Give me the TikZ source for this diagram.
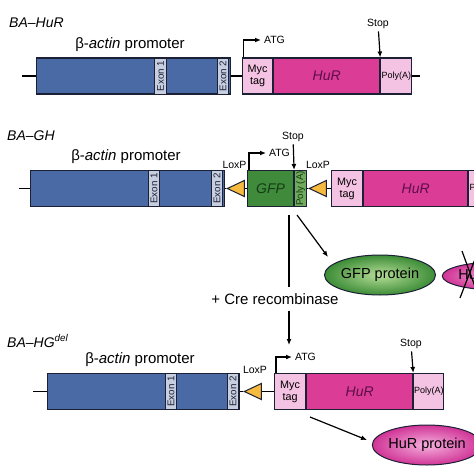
\documentclass[tikz,border=0pt]{standalone}
\usepackage{fontspec}
\setmainfont{Liberation Sans}
\usetikzlibrary{positioning,shapes.geometric,arrows.meta}

\definecolor{edgeline}{RGB}{28,32,52}
\definecolor{promblue}{RGB}{74,106,166}
\definecolor{exongrey}{RGB}{198,206,224}
\definecolor{tagpink}{RGB}{244,194,226}
\definecolor{hurmag}{RGB}{218,60,150}
\definecolor{hurtext}{RGB}{92,14,72}
\definecolor{gfpgreen}{RGB}{64,138,60}
\definecolor{gfptext}{RGB}{20,60,20}
\definecolor{polygreen}{RGB}{112,170,92}
\definecolor{loxorange}{RGB}{246,186,62}

\begin{document}
\begin{tikzpicture}[x=1pt, y=-1pt, >={Latex[length=6pt,width=5pt]},
    every node/.style={inner sep=0pt},
    seg/.style={draw=edgeline, line width=1.1pt, minimum height=36pt, anchor=west},
    promoter/.style={seg, fill=promblue},
    exon/.style={draw=edgeline, line width=0.8pt, fill=exongrey, minimum width=11.5pt, minimum height=36pt},
    exontext/.style={rotate=90, font=\fontsize{9.8}{10}\selectfont, text=edgeline},
    tag/.style={seg, fill=tagpink, align=center, font=\fontsize{10.8}{12}\selectfont},
    gene/.style={seg, fill=hurmag, text=hurtext, font=\fontsize{14}{16}\selectfont\itshape},
    polya/.style={seg, fill=tagpink, font=\fontsize{9}{10}\selectfont},
    loxp/.style={isosceles triangle, shape border rotate=180, isosceles triangle stretches,
      minimum width=16pt, minimum height=17pt, draw=edgeline, line width=1pt, fill=loxorange, anchor=apex},
    lbl/.style={font=\fontsize{14}{16}\selectfont\itshape, anchor=west},
    promlbl/.style={font=\fontsize{15}{17}\selectfont},
    small/.style={font=\fontsize{10.5}{11}\selectfont, inner sep=2.5pt},
    conn/.style={line width=1.2pt, draw=black},
    protein/.style={ellipse, draw=edgeline, line width=1pt, font=\fontsize{14.5}{16}\selectfont}]

  \path[use as bounding box, clip] (0,0) rectangle (474,474);
  \fill[white] (0,0) rectangle (474,474);

  % BA-HuR
  \node[lbl] (name1) at (9,23) {BA–HuR};
  \node[promlbl] (prom1) at (130,45) {β-\textit{actin} promoter};
  \node[promoter, minimum width=194pt] (blue1) at (36,76) {};
  \node[exon, label={[exontext]center:Exon 1}] (ex11) at (160.5,76) {};
  \node[exon, label={[exontext]center:Exon 2}] (ex12) at (223,76) {};
  \node[tag, minimum width=30pt] (myc1) at (242,76) {Myc\\tag};
  \node[gene, minimum width=106pt, right=0pt of myc1] (hur1) {HuR};
  \node[polya, minimum width=31pt, right=0pt of hur1] (poly1) {Poly(A)};
  \coordinate (in1) at (22,76);
  \coordinate (out1) at (420,76);
  \coordinate (atg1) at (261,40);
  \node[small] (stop1) at (378,24) {Stop};
  \draw[conn] (in1) -- (blue1.west) (blue1.east) -- (myc1.west) (poly1.east) -- (out1);
  \draw[conn,->] ([xshift=1.5pt]myc1.north west) |- (atg1) node[small, right] {ATG};
  \draw[conn,->] (stop1) -- (hur1.north east);

  % BA-GH
  \node[lbl] (name2) at (7,136) {BA–GH};
  \node[promlbl] (prom2) at (126,157) {β-\textit{actin} promoter};
  \node[promoter, minimum width=194pt] (blue2) at (30,188.5) {};
  \node[exon, label={[exontext]center:Exon 1}] (ex21) at (154,188.5) {};
  \node[exon, label={[exontext]center:Exon 2}] (ex22) at (217,188.5) {};
  \node[loxp] (lox21) at (226,188.5) {};
  \node[seg, fill=gfpgreen, text=gfptext, font=\fontsize{14}{16}\selectfont\itshape, minimum width=46pt] (gfp) at (247,188.5) {GFP};
  \node[seg, fill=polygreen, minimum width=12pt, right=0pt of gfp,
    label={[exontext, text=gfptext]center:Poly (A)}] (gpoly) {};
  \node[loxp] (lox22) at (308,188.5) {};
  \node[tag, minimum width=31pt] (myc2) at (331,188.5) {Myc\\tag};
  \node[gene, minimum width=104pt, right=0pt of myc2] (hur2) {HuR};
  \node[polya, minimum width=31pt, right=0pt of hur2] (poly2) {Poly(A)};
  \node[small] (loxlbl21) at (234.5,165) {LoxP};
  \node[small] (loxlbl22) at (318,165) {LoxP};
  \coordinate (in2) at (19,188.5);
  \coordinate (atg2) at (266,153);
  \node[small] (stop2) at (293,137) {Stop};
  \draw[conn] (in2) -- (blue2.west) (blue2.east) -- (lox21.apex) (lox21.lower side) -- (gfp.west)
    (gpoly.east) -- (lox22.apex) (lox22.lower side) -- (myc2.west);
  \draw[conn,->] ([xshift=2pt]gfp.north west) |- (atg2) node[small, right] {ATG};
  \draw[conn,->] (stop2) -- (gfp.north east);

  % Cre step and proteins
  \coordinate (crefrom) at (289,215);
  \coordinate (creto) at (289,345);
  \node[promlbl, inner ysep=6pt] (cre) at (275,299) {+ Cre recombinase};
  \draw[conn] (crefrom) -- (crefrom |- cre.north);
  \draw[conn,->] (crefrom |- cre.south) -- (creto);
  \coordinate (gfpfrom) at (297,215);
  \coordinate (gfpto) at (328,257);
  \draw[conn,->] (gfpfrom) -- (gfpto);
  \node[protein, inner color={rgb,255:red,182;green,222;blue,152}, outer color={rgb,255:red,60;green,140;blue,54},
    minimum width=111pt, minimum height=40pt] (gfpprot) at (380,275) {GFP protein};
  \node[protein, inner color={rgb,255:red,246;green,176;blue,222}, outer color={rgb,255:red,208;green,52;blue,150},
    minimum width=102pt, minimum height=28pt] (hurx) at (497,276) {HuR protein};
  \draw[conn] (462,251) -- (477,292) (460,298) -- (477,254);

  % BA-HGdel
  \node[lbl] (name3) at (7,341) {BA–HG\textsuperscript{del}};
  \node[promlbl] (prom3) at (140,360) {β-\textit{actin} promoter};
  \node[promoter, minimum width=192pt] (blue3) at (47,391.5) {};
  \node[exon, label={[exontext]center:Exon 1}] (ex31) at (171,391.5) {};
  \node[exon, label={[exontext]center:Exon 2}] (ex32) at (233,391.5) {};
  \node[loxp] (lox31) at (243,391.5) {};
  \node[tag, minimum width=31pt] (myc3) at (274,391.5) {Myc\\tag};
  \node[gene, minimum width=106pt, right=0pt of myc3] (hur3) {HuR};
  \node[polya, minimum width=30pt, right=0pt of hur3] (poly3) {Poly(A)};
  \node[small] (loxlbl31) at (255,370) {LoxP};
  \coordinate (in3) at (33,391.5);
  \coordinate (atg3) at (292,357);
  \node[small] (stop3) at (411,344) {Stop};
  \draw[conn] (in3) -- (blue3.west) (blue3.east) -- (lox31.apex) (lox31.lower side) -- (myc3.west);
  \draw[conn,->] ([xshift=2pt]myc3.north west) |- (atg3) node[small, right] {ATG};
  \draw[conn,->] (stop3) -- (hur3.north east);
  \coordinate (hurfrom) at (310,417);
  \coordinate (hurto) at (367,440);
  \draw[conn,->] (hurfrom) -- (hurto);
  \node[protein, inner color={rgb,255:red,246;green,176;blue,222}, outer color={rgb,255:red,208;green,52;blue,150},
    minimum width=104pt, minimum height=40pt] (hurprot) at (427,445) {HuR protein};
\end{tikzpicture}
\end{document}
